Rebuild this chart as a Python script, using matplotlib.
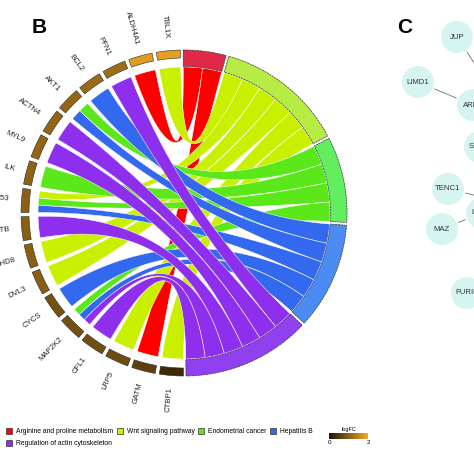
import numpy as np
import matplotlib
matplotlib.use('Agg')
import matplotlib.pyplot as plt
from matplotlib.patches import Polygon, Circle, Patch
from matplotlib.colors import LinearSegmentedColormap, Normalize
import matplotlib.cm as cm

plt.rcParams['font.family'] = ['Liberation Sans', 'DejaVu Sans']

# genes (left half, top to bottom) and their logFC
genes = ['TBL1X', 'ALDH4A1', 'PFN1', 'BCL2', 'AKT1', 'ACTN4', 'MYL9', 'ILK', 'TP53',
         'ACTB', 'CHD8', 'DVL3', 'CYCS', 'MAP2K2', 'CFL1', 'LRP5', 'GATM', 'CTBP1']
logfc = [1.85, 1.8, 1.2, 1.15, 1.1, 1.1, 1.08, 1.05, 1.02,
         1.0, 1.0, 0.98, 0.82, 0.8, 0.78, 0.75, 0.6, 0.3]

# terms (right half, clockwise from top) and member genes
terms = ['Arginine and proline metabolism', 'Wnt signaling pathway', 'Endometrial cancer',
         'Hepatitis B', 'Regulation of actin cytoskeleton']
arginine = ['ALDH4A1', 'GATM']
wnt = ['TBL1X', 'TP53', 'CHD8', 'DVL3', 'LRP5', 'CTBP1']
endometrial = ['AKT1', 'ILK', 'TP53', 'MAP2K2']
hepatitis_b = ['BCL2', 'AKT1', 'TP53', 'CYCS', 'MAP2K2']
actin = ['PFN1', 'ACTN4', 'MYL9', 'ACTB', 'MAP2K2', 'CFL1']
members = [arginine, wnt, endometrial, hepatitis_b, actin]

term_colors = ['#FF0000', '#C8F000', '#5BE81A', '#3369EE', '#8E2FEE']
band_colors = ['#DE2A48', '#B6EC44', '#62EE5E', '#4C8CF2', '#9040EE']

# panel C network (partly outside the crop)
net_nodes = ['JUP', 'LIMD1', 'ARF6', 'SIRT1', 'TENC1', 'LMO7', 'MAZ', 'FURIN', 'CTNNB1', 'PTEN']
net_edges = [('JUP', 'CTNNB1'), ('LIMD1', 'ARF6'), ('TENC1', 'PTEN'), ('MAZ', 'LMO7')]

# ---- layout ----
cx, cy = 184, 213
r_out, r_gene_in, r_band_in, r_rib = 163, 155, 146.5, 146
g_start, g_end, g_gap = 91.3, 269.8, 1.5
t_start, t_end, t_gap = 90.3, -89.3, 1.0

cmap = LinearSegmentedColormap.from_list('lfc', ['#1c1403', '#F5AA25'])
norm = Normalize(0, 2)


def pt(r, a):
    a = np.deg2rad(a)
    return np.array([cx + r * np.cos(a), cy - r * np.sin(a)])


def arc(r, a1, a2, n=40):
    return [pt(r, a) for a in np.linspace(a1, a2, n)]


def bez(p0, p2, n=50):
    c = np.array([cx, cy])
    t = np.linspace(0, 1, n)[:, None]
    return list((1 - t) ** 2 * p0 + 2 * (1 - t) * t * c + t ** 2 * p2)


fig = plt.figure(figsize=(4.74, 4.74), dpi=100)
ax = fig.add_axes([0, 0, 1, 1])
ax.set_xlim(0, 474)
ax.set_ylim(474, 0)
ax.set_aspect('equal')
ax.axis('off')

ng = len(genes)
gw = (g_end - g_start - g_gap * (ng - 1)) / ng
nlinks = sum(len(m) for m in members)
tu = (t_start - t_end - t_gap * (len(terms) - 1)) / nlinks

# gene side sub-slots
gene_slot = {}
for i, g in enumerate(genes):
    a0 = g_start + i * (gw + g_gap)
    tl = [k for k in range(len(terms)) if g in members[k]]
    for j, k in enumerate(tl):
        gene_slot[(g, k)] = (a0 + j * gw / len(tl), a0 + (j + 1) * gw / len(tl))
    col = cmap(norm(logfc[i]))
    ax.add_patch(Polygon(arc(r_out, a0, a0 + gw) + arc(r_gene_in, a0 + gw, a0),
                         closed=True, fc=col, ec='#2a2a2a', lw=0.4, zorder=3))
    am = a0 + gw / 2
    x, y = pt(175, am)
    ax.text(x, y, g, fontsize=5.6, rotation=am + 180 - 360,
            rotation_mode='anchor', ha='right', va='center', color='#222222')

# term bands and ribbons
ts = t_start
for k, t in enumerate(terms):
    te = ts - tu * len(members[k])
    mem = sorted(members[k], key=genes.index)
    for m, g in enumerate(mem):
        a1, a2 = gene_slot[(g, k)]
        b_hi = ts - m * tu
        b_lo = ts - (m + 1) * tu
        poly = (arc(r_rib, a1, a2) + bez(pt(r_rib, a2), pt(r_rib, b_lo)) +
                arc(r_rib, b_lo, b_hi) + bez(pt(r_rib, b_hi), pt(r_rib, a1)))
        ax.add_patch(Polygon(poly, closed=True, fc=term_colors[k], ec='white',
                             lw=0.35, zorder=2))
    ax.add_patch(Polygon(arc(r_out, ts, te) + arc(r_band_in, te, ts), closed=True,
                         fc=band_colors[k], ec='#333333', lw=0.5, ls=(0, (3, 1)), zorder=3))
    ts = te - t_gap

ax.text(32, 33, 'B', fontsize=15, fontweight='bold', ha='left', va='baseline')
ax.text(397, 33, 'C', fontsize=15, fontweight='bold', ha='left', va='baseline')

# legend
order = [0, 4, 1, 2, 3]
handles = [Patch(fc=term_colors[k], ec='#333333', lw=0.5, label=terms[k]) for k in order]
ax.legend(handles=handles, ncol=4, loc='upper left', bbox_to_anchor=(6 / 474, 1 - 428 / 474),
          frameon=False, fontsize=4.9, handlelength=0.9, handleheight=0.9,
          handletextpad=0.6, columnspacing=0.5, labelspacing=0.75,
          borderpad=0, borderaxespad=0)

cax = fig.add_axes([329 / 474, 1 - 439 / 474, 39 / 474, 6 / 474])
cb = fig.colorbar(cm.ScalarMappable(norm=norm, cmap=cmap), cax=cax, orientation='horizontal')
cb.set_ticks([0, 2])
cb.ax.tick_params(labelsize=4.5, length=0, pad=1)
cb.outline.set_visible(False)
cax.set_title('logFC', fontsize=4, pad=1.5)

# panel C
node_pos = {'JUP': (457, 37), 'LIMD1': (418, 82), 'ARF6': (473, 105), 'SIRT1': (480, 147),
            'TENC1': (448, 189), 'LMO7': (482, 213), 'MAZ': (442, 229), 'FURIN': (467, 293),
            'CTNNB1': (492, 90), 'PTEN': (525, 207)}
node_r = 16
for a, b in net_edges:
    p, q = np.array(node_pos[a]), np.array(node_pos[b])
    d = (q - p) / np.linalg.norm(q - p)
    s, e = p + d * (node_r + 2), q - d * (node_r + 2)
    ax.plot([s[0], e[0]], [s[1], e[1]], color='#555555', lw=0.5, zorder=4)
for n in net_nodes:
    x, y = node_pos[n]
    ax.add_patch(Circle((x, y), node_r, fc='#D6F5F1', ec='none', zorder=5))
    ax.text(x, y, n, fontsize=5.6, ha='center', va='center', color='#333333', zorder=6)

plt.savefig('out.png', dpi=100)
